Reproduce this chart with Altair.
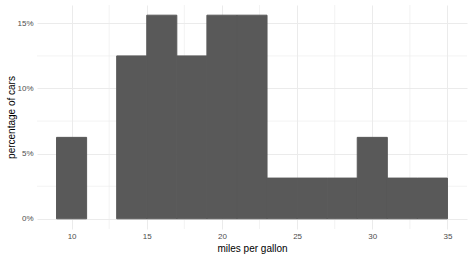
import altair as alt
import pandas as pd

bin_start = [9, 11, 13, 15, 17, 19, 21, 23, 25, 27, 29, 31, 33]
bin_end = [11, 13, 15, 17, 19, 21, 23, 25, 27, 29, 31, 33, 35]
pct = [6.25, 0, 12.5, 15.625, 12.5, 15.625, 15.625, 3.125, 3.125, 3.125, 6.25, 3.125, 3.125]

x_major = [10, 15, 20, 25, 30, 35]
x_minor = [12.5, 17.5, 22.5, 27.5, 32.5]
y_major = [0, 5, 10, 15]
y_minor = [2.5, 7.5, 12.5]

df = pd.DataFrame({"start": bin_start, "end": bin_end, "pct": pct, "zero": [0] * len(pct)})
df = df[df["pct"] > 0]

xs = alt.Scale(domain=[7.7, 36.3], nice=False, zero=False)
ys = alt.Scale(domain=[-0.78125, 16.40625], nice=False, zero=False)

FONT = "Liberation Sans"

x_axis = alt.Axis(
    values=x_major,
    title="miles per gallon",
    grid=True,
    gridColor="#EBEBEB",
    gridWidth=1,
    ticks=False,
    domain=False,
    labelFont=FONT,
    labelFontSize=8,
    labelColor="#4D4D4D",
    labelPadding=3,
    titleFont=FONT,
    titleFontSize=10,
    titleFontWeight="normal",
    titleColor="#000000",
    titleY=19,
    titleBaseline="middle",
)
y_axis = alt.Axis(
    values=y_major,
    labelExpr="datum.value + '%'",
    title="percentage of cars",
    grid=True,
    gridColor="#EBEBEB",
    gridWidth=1,
    ticks=False,
    domain=False,
    labelFont=FONT,
    labelFontSize=8,
    labelColor="#4D4D4D",
    labelPadding=4,
    titleFont=FONT,
    titleFontSize=10,
    titleFontWeight="normal",
    titleColor="#000000",
    titleX=-25.5,
    titleY=112,
    titleAngle=-90,
    titleBaseline="middle",
)

minor_x = alt.Chart(pd.DataFrame({"v": x_minor})).mark_rule(color="#EBEBEB", strokeWidth=0.6).encode(
    x=alt.X("v:Q", scale=xs, axis=x_axis)
)
minor_y = alt.Chart(pd.DataFrame({"v": y_minor})).mark_rule(color="#EBEBEB", strokeWidth=0.6).encode(
    y=alt.Y("v:Q", scale=ys, axis=y_axis)
)

bars = alt.Chart(df).mark_rect(color="#595959", stroke="#595959", strokeWidth=1).encode(
    x=alt.X("start:Q", scale=xs, axis=x_axis),
    x2="end:Q",
    y=alt.Y("pct:Q", scale=ys, axis=y_axis),
    y2="zero:Q",
)

chart = (
    alt.layer(minor_x, minor_y, bars)
    .properties(
        width=430,
        height=224,
        autosize=alt.AutoSizeParams(type="none"),
        padding={"left": 37, "top": 5, "right": 7, "bottom": 29},
        background="white",
    )
    .configure_view(stroke=None)
)

chart.save("out.html", embed_options={"renderer": "svg", "actions": False})
